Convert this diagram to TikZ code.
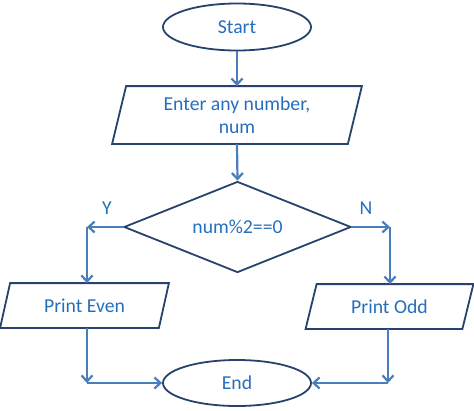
\documentclass[tikz,border=0pt]{standalone}
\usepackage{fontspec}
\setmainfont{Carlito}
\usetikzlibrary{shapes.geometric,arrows.meta}
\definecolor{shapeline}{RGB}{40,66,110}
\definecolor{arrowblue}{RGB}{74,126,187}
\definecolor{textblue}{RGB}{36,110,190}
\tikzset{
  base/.style={draw=shapeline, line width=1.8pt, inner sep=0pt, text=textblue,
    font=\fontsize{19.7}{23.5}\selectfont, align=center},
  term/.style={base, ellipse, minimum width=148pt, minimum height=47pt},
  io/.style={base, draw=none, rectangle},
  pgram/.style={draw=shapeline, line width=1.8pt, line join=miter},
  decision/.style={base, diamond, minimum width=227pt, minimum height=91pt, aspect=2.5},
  conn/.style={draw=arrowblue, line width=2.2pt, -{Straight Barb[length=6pt,width=11pt,line width=2.2pt]}},
  lbl/.style={text=textblue, font=\fontsize{19.7}{23.5}\selectfont, inner sep=0pt}
}
\begin{document}
\begin{tikzpicture}[x=1pt,y=-1pt]
\useasboundingbox (0,0) rectangle (474,410);
\node[term] (start) at (237,27) {Start};
\node[io, minimum width=248pt, minimum height=56pt] (input) at (237,115) {Enter any number,\\num};
\draw[pgram] ([xshift=14pt]input.north west) -- (input.north east) -- ([xshift=-14pt]input.south east) -- (input.south west) -- cycle;
\node[decision] (dec) at (237.5,227) {num\%2==0};
\node[io, minimum width=167pt, minimum height=43pt] (even) at (84.5,305.5) {Print Even};
\draw[pgram] ([xshift=10pt]even.north west) -- (even.north east) -- ([xshift=-10pt]even.south east) -- (even.south west) -- cycle;
\node[io, minimum width=166pt, minimum height=43pt] (odd) at (389.5,306.5) {Print Odd};
\draw[pgram] ([xshift=11pt]odd.north west) -- (odd.north east) -- ([xshift=-11pt]odd.south east) -- (odd.south west) -- cycle;
\node[term, minimum height=46pt] (end) at (237,383) {End};
\node[lbl] (ylbl) at (107,208) {Y};
\node[lbl] (nlbl) at (366,208) {N};
\coordinate (yc) at (87,227);
\coordinate (nc) at (390,227);
\coordinate (ye) at (87,383);
\coordinate (ne) at (388,383);
\draw[conn] (start.south) -- (input.north);
\draw[conn] (input.south) -- (dec.north);
\draw[conn] (dec.west) -- (yc);
\draw[conn] (yc) -- (yc |- even.north);
\draw[conn] (dec.east) -- (nc);
\draw[conn] (nc) -- (nc |- odd.north);
\draw[conn] (ye |- even.south) -- (ye);
\draw[conn] (ye) -- (end.west);
\draw[conn] (ne |- odd.south) -- (ne);
\draw[conn] (ne) -- (end.east);
\end{tikzpicture}
\end{document}
